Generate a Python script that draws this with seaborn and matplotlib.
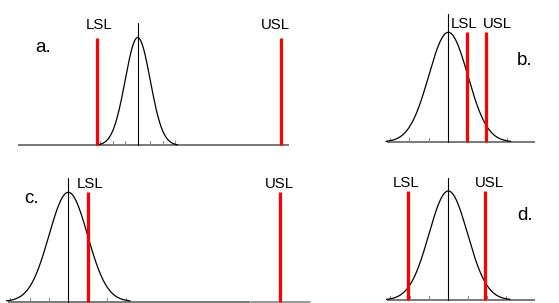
import numpy as np
import pandas as pd
import matplotlib
matplotlib.use("Agg")
import matplotlib.pyplot as plt
import seaborn as sns

sns.set_theme(style="white")
plt.rcParams['font.family'] = ['Liberation Sans', 'DejaVu Sans']

# ---- data (process in sigma units, mean = 0, sd = 1) ----
panel_names = ["a.", "b.", "c.", "d."]
lsl_values = [-3.28, 0.94, 1.0, -2.1]
usl_values = [11.46, 1.92, 10.97, 1.92]
spec_labels = ["LSL", "USL"]
tick_sigmas = [-3, -2, -1, 1, 2, 3]

W, H = 559, 303
fig = plt.figure(figsize=(W / 100, H / 100), dpi=100)
fig.patch.set_facecolor("white")

# layout per panel: axes rect (px), centre px, px per sigma, baseline px, peak px,
# baseline extent (px), mean-line top (px)
layout = [
    dict(rect=(0, 0, 380, 160), cx=137.7, spx=12.5, base=145.5, peak=37.5,
         bl=(18, 289), mtop=22.7, name_xy=(43, 52), name_ha="center",
         lab_xy=[(98.8, 29.3), (275, 29.3)], gray=None),
    dict(rect=(380, 0, 559, 160), cx=448.3, spx=19.5, base=142, peak=32.3,
         bl=(387, 535), mtop=14, name_xy=(525, 65), name_ha="center",
         lab_xy=[(464.5, 28.3), (497.7, 28.3)], gray=None),
    dict(rect=(0, 160, 380, 303), cx=68.3, spx=19.3, base=301.5, peak=192.3,
         bl=(8, 250), mtop=178, name_xy=(32, 203.3), name_ha="center",
         lab_xy=[(90, 187.5), (279.5, 187.5)], gray=(250, 310)),
    dict(rect=(380, 160, 559, 303), cx=448.3, spx=19.3, base=300, peak=191,
         bl=(387, 535), mtop=177.7, name_xy=(525, 220), name_ha="center",
         lab_xy=[(405.8, 187.3), (489, 187.3)], gray=None),
]

xs = np.linspace(-3.2, 3.2, 400)

for name, lsl, usl, L in zip(panel_names, lsl_values, usl_values, layout):
    l, t, r, b = L["rect"]
    ax = fig.add_axes([l / W, 1 - b / H, (r - l) / W, (b - t) / H])
    ax.set_facecolor("none")
    ax.axis("off")
    h = L["base"] - L["peak"]
    ax.set_xlim((l - L["cx"]) / L["spx"], (r - L["cx"]) / L["spx"])
    ax.set_ylim((L["base"] - b) / h, (L["base"] - t) / h)

    # baseline
    x0, x1 = [(v - L["cx"]) / L["spx"] for v in L["bl"]]
    ax.plot([x0, x1], [0, 0], color="#555555", lw=1.1, solid_capstyle="butt")
    if L["gray"] is not None:
        g0, g1 = [(v - L["cx"]) / L["spx"] for v in L["gray"]]
        ax.plot([g0, g1], [0, 0], color="#999999", lw=2.2, solid_capstyle="butt")

    # ticks
    tick_h = 4 / h
    for ts in tick_sigmas:
        ax.plot([ts, ts], [0, tick_h], color="#888888", lw=0.8)

    # normal curve
    df = pd.DataFrame({"x": xs, "y": np.exp(-xs ** 2 / 2)})
    sns.lineplot(data=df, x="x", y="y", ax=ax, color="black", lw=0.9,
                 estimator=None, sort=False)

    # mean line
    mt = (L["base"] - L["mtop"]) / h
    ax.plot([0, 0], [0, mt], color="black", lw=0.8)

    # spec limits
    for v in (lsl, usl):
        ax.plot([v, v], [0, 1.0], color="#ff0000", lw=2.3, solid_capstyle="butt")

    ax.set_xlabel("")
    ax.set_ylabel("")

    # labels
    for lab, (px, py) in zip(spec_labels, L["lab_xy"]):
        fig.text(px / W, 1 - py / H, lab, ha="center", va="baseline",
                 fontsize=10.8, color="black")
    nx, ny = L["name_xy"]
    fig.text(nx / W, 1 - ny / H, name, ha=L["name_ha"], va="baseline",
             fontsize=13.5, color="black")

fig.savefig("out.png", dpi=100, facecolor="white")
